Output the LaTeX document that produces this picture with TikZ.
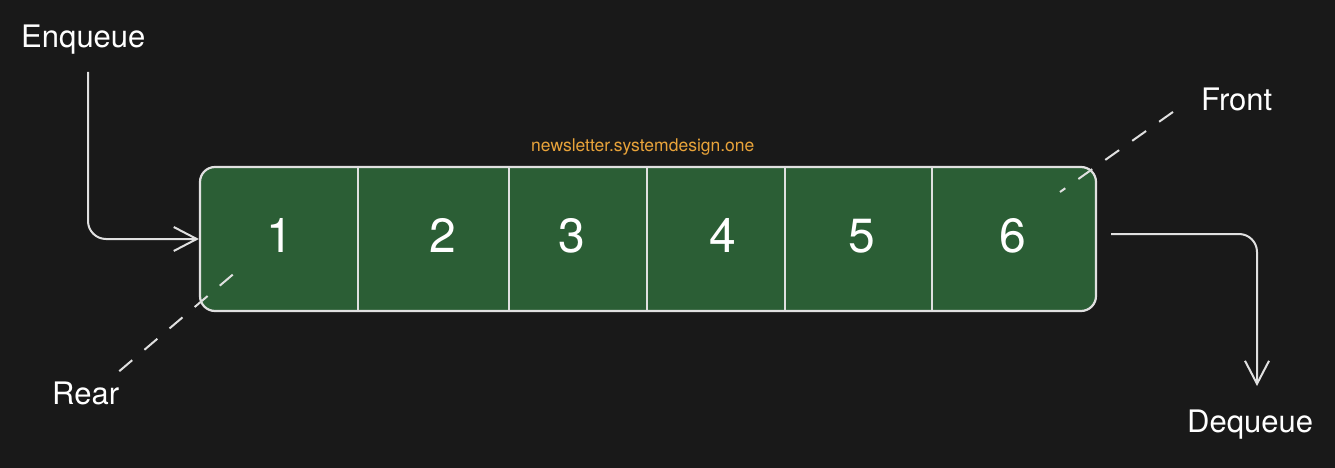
\documentclass[tikz,border=0pt]{standalone}
\usepackage{fontspec}
\setmainfont{TeX Gyre Heros}
\usetikzlibrary{arrows.meta}
\definecolor{bgdark}{HTML}{191919}
\definecolor{cellgreen}{HTML}{2B5E35}
\definecolor{edgegray}{HTML}{E0E0E0}
\definecolor{markorange}{HTML}{E8A33A}
\begin{document}
\begin{tikzpicture}[x=1pt,y=-1pt,
  qlabel/.style={text=white,font=\fontsize{31}{31}\selectfont,inner sep=0pt,anchor=base west},
  cellnum/.style={text=white,font=\fontsize{48}{48}\selectfont,inner sep=0pt,anchor=base},
  queuebox/.style={draw=edgegray,fill=cellgreen,line width=2.2pt,rounded corners=15pt,minimum width=896pt,minimum height=144pt,inner sep=0pt},
  divider/.style={draw=edgegray,line width=2pt},
  flow/.style={draw=edgegray,line width=2pt,rounded corners=18pt,-{Straight Barb[length=23pt,width=24pt]}},
  pointer/.style={draw=edgegray,line width=2pt,dash pattern=on 17pt off 16pt}]
% Achtergrond
\fill[bgdark] (0,0) rectangle (1335,468);
\useasboundingbox (0,0) rectangle (1335,468);

% Wachtrij met zes vakjes
\node[queuebox] (queue) at (648,239) {};
\foreach \x in {358,509,647,785,932}
  \draw[divider] (\x,167) -- (\x,311);
\foreach \n/\x in {1/280,2/443,3/572,4/723,5/862,6/1013}
  \node[cellnum] (cell\n) at (\x,252) {\n};

% Watermerk
\node[text=markorange,font=\fontsize{17.5}{17.5}\selectfont,inner sep=0pt,anchor=base west] (mark) at (531,151) {newsletter.systemdesign.one};

% Labels
\node[qlabel] (enqueue) at (21,48) {Enqueue};
\node[qlabel] (rear) at (52,404) {Rear};
\node[qlabel] (front) at (1201,111) {Front};
\node[qlabel] (dequeue) at (1187,432) {Dequeue};

% Pijlen in en uit
\coordinate (enqtail) at (88,72);
\draw[flow] (enqtail) |- (queue.west);
\coordinate (deqtail) at (1111,234);
\coordinate (deqhead) at (1257,386);
\draw[flow] (deqtail) -| (deqhead);

% Wijzers naar achterkant en voorkant
\coordinate (rearmark) at (237,271);
\draw[pointer] ([yshift=10pt]rear.north east) -- (rearmark);
\coordinate (frontmark) at (1060,192);
\draw[pointer] ([shift={(-28pt,-12pt)}]front.west) -- (frontmark);
\end{tikzpicture}
\end{document}
